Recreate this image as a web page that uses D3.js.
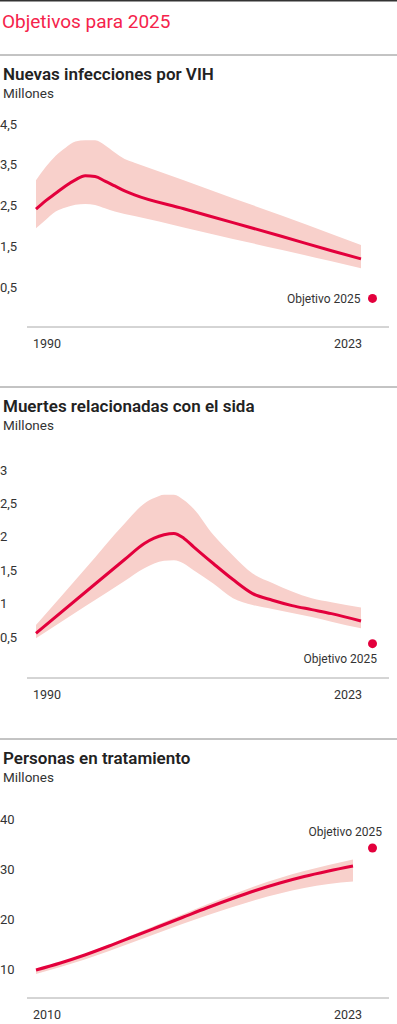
<!DOCTYPE html>
<html>
<head>
<meta charset="utf-8">
<script src="https://cdn.jsdelivr.net/npm/d3@7"></script>
<style>
  body { margin: 0; background: #fff; }
  svg { display: block; font-family: Roboto, "Open Sans", sans-serif; }
</style>
</head>
<body>
<div id="chart"></div>
<script>
// Nuevas infecciones por VIH (millones)
const yearsInf = [1990, 1991, 1992, 1993, 1994, 1995, 1996, 1997, 1998, 1999, 2000, 2005, 2010, 2015, 2020, 2023];
const infections = [2.41, 2.62, 2.80, 2.98, 3.13, 3.23, 3.21, 3.10, 2.98, 2.86, 2.76, 2.42, 2.08, 1.74, 1.39, 1.19];
const infectionsLow = [1.94, 2.15, 2.35, 2.45, 2.52, 2.54, 2.51, 2.43, 2.35, 2.29, 2.24, 1.96, 1.68, 1.41, 1.13, 0.96];
const infectionsHigh = [3.12, 3.45, 3.72, 3.92, 4.07, 4.10, 4.10, 3.98, 3.80, 3.64, 3.55, 3.12, 2.68, 2.25, 1.80, 1.53];
const infectionsTarget = 0.22;
const infectionsTicks = [0.5, 1.5, 2.5, 3.5, 4.5];

// Muertes relacionadas con el sida (millones)
const yearsDeaths = [1990, 1995, 1999, 2001, 2002, 2003, 2004, 2005, 2006, 2008, 2010, 2012, 2014, 2016, 2018, 2020, 2023];
const deaths = [0.555, 1.17, 1.66, 1.90, 1.98, 2.03, 2.05, 1.98, 1.85, 1.60, 1.36, 1.15, 1.05, 0.97, 0.91, 0.85, 0.74];
const deathsLow = [0.48, 0.96, 1.34, 1.53, 1.60, 1.64, 1.65, 1.60, 1.50, 1.30, 1.08, 0.98, 0.92, 0.86, 0.80, 0.73, 0.63];
const deathsHigh = [0.68, 1.52, 2.20, 2.50, 2.58, 2.63, 2.63, 2.55, 2.42, 2.03, 1.72, 1.45, 1.31, 1.18, 1.08, 1.02, 0.94];
const deathsTarget = 0.40;
const deathsTicks = [0.5, 1, 1.5, 2, 2.5, 3];

// Personas en tratamiento (millones)
const yearsTreat = [2010, 2011, 2012, 2013, 2014, 2015, 2016, 2017, 2018, 2019, 2020, 2021, 2022, 2023];
const treatment = [9.8, 11.2, 12.8, 14.6, 16.5, 18.4, 20.3, 22.2, 24.0, 25.7, 27.2, 28.5, 29.6, 30.6];
const treatmentLow = [9.0, 10.4, 11.9, 13.6, 15.4, 17.2, 19.0, 20.7, 22.3, 23.8, 25.1, 26.2, 27.0, 27.5];
const treatmentHigh = [10.0, 11.4, 13.0, 14.9, 16.9, 18.9, 20.9, 22.9, 24.8, 26.6, 28.2, 29.6, 30.8, 31.9];
const treatmentTarget = 34.2;
const treatmentTicks = [10, 20, 30, 40];

const W = 397, H = 1024;
const red = "#e3003c";
const band = "#f8d0cb";
const plotLeft = 36, plotRight = 362;

const locale = d3.formatLocale({ decimal: ",", thousands: ".", grouping: [3], currency: ["", "€"] });
const fmt = locale.format("~g");

const svg = d3.select("#chart").append("svg")
  .attr("width", W)
  .attr("height", H);

// top rule + main heading
svg.append("line")
  .attr("x1", 0).attr("x2", W).attr("y1", 0.75).attr("y2", 0.75)
  .attr("stroke", "#333").attr("stroke-width", 1.5);
svg.append("text")
  .attr("x", 2).attr("y", 27.5)
  .attr("fill", "#f5234b")
  .attr("font-size", 19)
  .text("Objetivos para 2025");

const panels = [
  {
    title: "Nuevas infecciones por VIH", years: yearsInf, mid: infections, low: infectionsLow, high: infectionsHigh,
    target: infectionsTarget, ticks: infectionsTicks, domain: [0, 4.5], yRange: [307.4, 124],
    xEnd: 361, top: 55, axisY: 327, labelPos: "left"
  },
  {
    title: "Muertes relacionadas con el sida", years: yearsDeaths, mid: deaths, low: deathsLow, high: deathsHigh,
    target: deathsTarget, ticks: deathsTicks, domain: [0, 3], yRange: [670.4, 470],
    xEnd: 361, top: 387, axisY: 678, labelPos: "below"
  },
  {
    title: "Personas en tratamiento", years: yearsTreat, mid: treatment, low: treatmentLow, high: treatmentHigh,
    target: treatmentTarget, ticks: treatmentTicks, domain: [0, 40], yRange: [1019, 819],
    xEnd: 353, top: 739, axisY: 998, labelPos: "above"
  }
];

panels.forEach(p => {
  const g = svg.append("g");

  g.append("line")
    .attr("x1", 0).attr("x2", W).attr("y1", p.top).attr("y2", p.top)
    .attr("stroke", "#888").attr("stroke-width", 1);

  g.append("text")
    .attr("x", 3).attr("y", p.top + 24.5)
    .attr("fill", "#222").attr("font-size", 17).attr("font-weight", 600)
    .text(p.title);
  g.append("text")
    .attr("x", 3).attr("y", p.top + 43)
    .attr("fill", "#333").attr("font-size", 13.5)
    .text("Millones");

  const data = p.years.map((yr, i) => ({ year: yr, v: p.mid[i], lo: p.low[i], hi: p.high[i] }));

  const x = d3.scaleLinear()
    .domain(d3.extent(p.years))
    .range([plotLeft, p.xEnd]);
  const y = d3.scaleLinear()
    .domain(p.domain)
    .range(p.yRange);

  // y tick labels
  const yAxis = g.append("g")
    .call(d3.axisRight(y).tickValues(p.ticks).tickSize(0).tickPadding(0).tickFormat(fmt));
  yAxis.select(".domain").remove();
  yAxis.selectAll("text")
    .attr("font-family", "Roboto, sans-serif")
    .attr("font-size", 13)
    .attr("fill", "#333");

  // uncertainty band
  g.append("path")
    .datum(data)
    .attr("fill", band)
    .attr("d", d3.area()
      .x(d => x(d.year))
      .y0(d => y(d.lo))
      .y1(d => y(d.hi))
      .curve(d3.curveMonotoneX));

  // central estimate
  g.append("path")
    .datum(data)
    .attr("fill", "none")
    .attr("stroke", red)
    .attr("stroke-width", 3)
    .attr("stroke-linejoin", "round")
    .attr("d", d3.line()
      .x(d => x(d.year))
      .y(d => y(d.v))
      .curve(d3.curveMonotoneX));

  // baseline
  g.append("line")
    .attr("x1", 27).attr("x2", 389)
    .attr("y1", p.axisY).attr("y2", p.axisY)
    .attr("stroke", "#aaa").attr("stroke-width", 1);

  const ext = d3.extent(p.years);
  g.append("text")
    .attr("x", plotLeft - 3).attr("y", p.axisY + 20.5)
    .attr("font-size", 12.5).attr("fill", "#333")
    .text(ext[0]);
  g.append("text")
    .attr("x", plotRight).attr("y", p.axisY + 20.5)
    .attr("text-anchor", "end")
    .attr("font-size", 12.5).attr("fill", "#333")
    .text(ext[1]);

  // 2025 target
  const tx = plotRight + 10.5, ty = y(p.target);
  g.append("circle")
    .attr("cx", tx).attr("cy", ty).attr("r", 4.5)
    .attr("fill", red);

  const lbl = g.append("text")
    .attr("font-size", 12).attr("fill", "#333")
    .text("Objetivo 2025");
  if (p.labelPos === "left") {
    lbl.attr("x", tx - 12).attr("y", ty + 4.5).attr("text-anchor", "end");
  } else if (p.labelPos === "below") {
    lbl.attr("x", tx + 4.5).attr("y", ty + 19.5).attr("text-anchor", "end");
  } else {
    lbl.attr("x", tx + 9.5).attr("y", ty - 12).attr("text-anchor", "end");
  }
});
</script>
</body>
</html>
